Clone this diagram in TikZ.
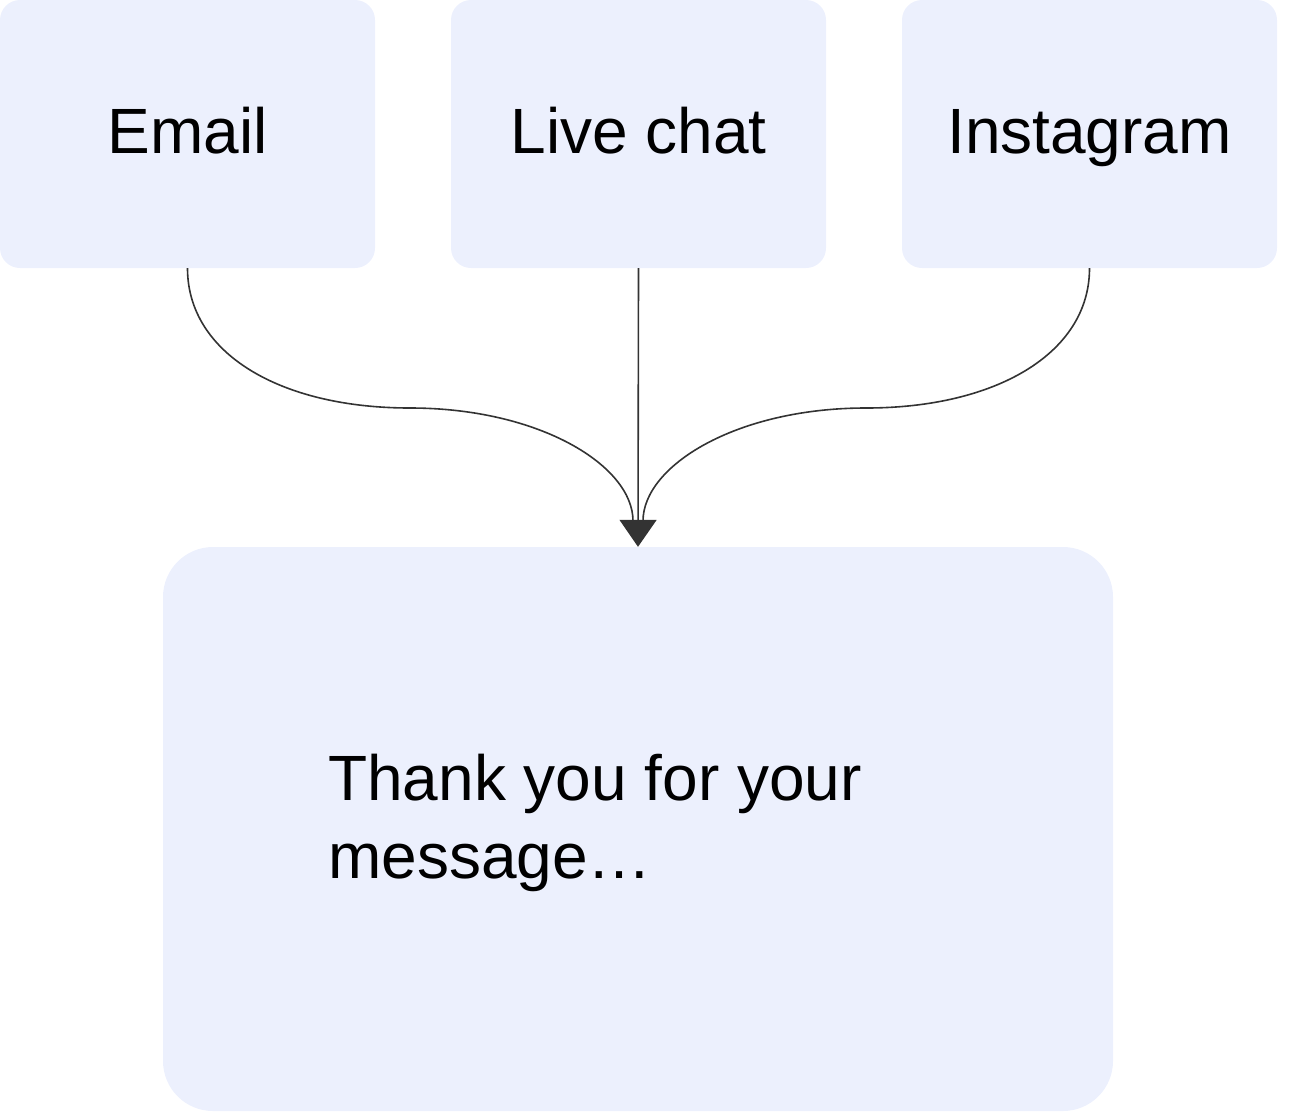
\documentclass[tikz,border=0pt]{standalone}
\usepackage{fontspec}
\setmainfont{Liberation Sans}
\usetikzlibrary{arrows.meta}
\definecolor{boxfill}{HTML}{ECF0FD}
\definecolor{linec}{HTML}{333333}
\tikzset{
  chan/.style={fill=boxfill, draw=none, rounded corners=20pt, minimum width=375pt, minimum height=268pt, inner sep=0pt, text height=48pt, text depth=10pt, font=\fontsize{64}{78}\selectfont},
  bigbox/.style={fill=boxfill, draw=none, rounded corners=50pt, minimum width=950pt, minimum height=564pt, inner sep=0pt},
  conn/.style={draw=linec, line width=1.6pt},
}
\begin{document}
\begin{tikzpicture}[x=1pt,y=-1pt]
\useasboundingbox (0,0) rectangle (1298,1112);
\node[chan] (email) at (187.5,134) {Email};
\node[chan] (live) at (638.5,134) {Live chat};
\node[chan] (insta) at (1089.5,134) {Instagram};
\node[bigbox] (bottom) at (638,829) {};
\node[anchor=north west, align=left, inner sep=0pt, font=\fontsize{64}{78}\selectfont] (msg) at (328,754) {Thank you for your\\message…};
\coordinate (m1) at (410,408);
\coordinate (m2) at (866,408);
\coordinate (e1) at (633,521);
\coordinate (e2) at (643,521);
\draw[conn] (email.south) .. controls +(0,85) and +(-130,0) .. (m1) .. controls +(130,0) and +(0,-55) .. (e1);
\draw[conn] (insta.south) .. controls +(0,85) and +(130,0) .. (m2) .. controls +(-130,0) and +(0,-55) .. (e2);
\draw[conn, -{Triangle[width=37pt,length=27pt]}, fill=linec] (live.south) -- (bottom.north);
\end{tikzpicture}
\end{document}
